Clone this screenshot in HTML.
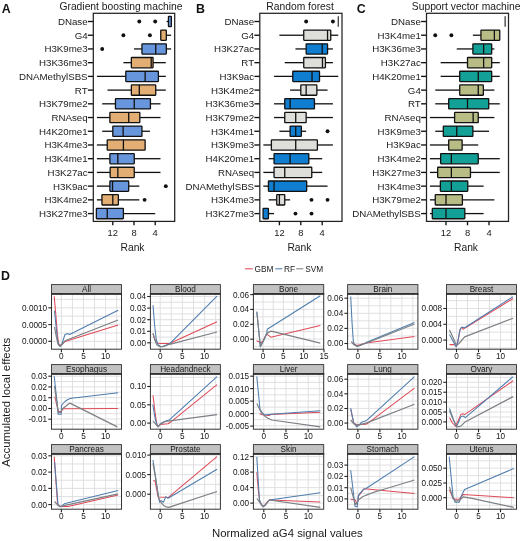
<!DOCTYPE html>
<html lang="en">
<head>
<meta charset="utf-8">
<title>Figure</title>
<style>
html,body{margin:0;padding:0;background:#fff;}
body{width:520px;height:541px;overflow:hidden;font-family:"Liberation Sans", Arial, Helvetica, sans-serif;}
svg{display:block;}
svg text{font-family:"Liberation Sans", Arial, Helvetica, sans-serif;}
</style>
</head>
<body>
<svg width="520" height="541" viewBox="0 0 520 541" font-family='"Liberation Sans", Arial, Helvetica, sans-serif'>
<rect width="520" height="541" fill="#fff"/>
<g>
<text x="1.8" y="13.0" font-size="12.4" font-weight="bold" fill="#111">A</text>
<text x="121" y="9.9" font-size="10.3" text-anchor="middle" fill="#1a1a1a">Gradient boosting machine</text>
<rect x="93.3" y="13.3" width="81.4" height="208.1" fill="#fff" stroke="none"/>
<text x="87.6" y="24.95" font-size="9.72" text-anchor="end" fill="#1a1a1a">DNase</text>
<line x1="87.9" y1="21.5" x2="93.3" y2="21.5" stroke="#111" stroke-width="1.35"/>
<line x1="166.59" y1="21.5" x2="168.45" y2="21.5" stroke="#111" stroke-width="1.3"/>
<rect x="168.45" y="16.35" width="2.91" height="10.3" rx="0.5" fill="#6896dc" stroke="#111" stroke-width="1.3"/>
<circle cx="139.3" cy="21.5" r="1.95" fill="#111"/>
<circle cx="155.2" cy="21.5" r="1.95" fill="#111"/>
<text x="87.6" y="38.67" font-size="9.72" text-anchor="end" fill="#1a1a1a">G4</text>
<line x1="87.9" y1="35.22" x2="93.3" y2="35.22" stroke="#111" stroke-width="1.35"/>
<line x1="166.33" y1="35.22" x2="171.1" y2="35.22" stroke="#111" stroke-width="1.3"/>
<rect x="160.76" y="30.07" width="5.56" height="10.3" rx="0.5" fill="#e2ae74" stroke="#111" stroke-width="1.3"/>
<circle cx="123.4" cy="35.22" r="1.95" fill="#111"/>
<circle cx="149.9" cy="35.22" r="1.95" fill="#111"/>
<text x="87.6" y="52.39" font-size="9.72" text-anchor="end" fill="#1a1a1a">H3K9me3</text>
<line x1="87.9" y1="48.94" x2="93.3" y2="48.94" stroke="#111" stroke-width="1.35"/>
<line x1="134" y1="48.94" x2="141.95" y2="48.94" stroke="#111" stroke-width="1.3"/>
<line x1="166.33" y1="48.94" x2="171.1" y2="48.94" stroke="#111" stroke-width="1.3"/>
<rect x="141.95" y="43.79" width="24.38" height="10.3" rx="0.5" fill="#6896dc" stroke="#111" stroke-width="1.3"/>
<line x1="155.73" y1="43.79" x2="155.73" y2="54.09" stroke="#111" stroke-width="1.3"/>
<circle cx="102.2" cy="48.94" r="1.95" fill="#111"/>
<text x="87.6" y="66.11" font-size="9.72" text-anchor="end" fill="#1a1a1a">H3K36me3</text>
<line x1="87.9" y1="62.66" x2="93.3" y2="62.66" stroke="#111" stroke-width="1.35"/>
<line x1="123.4" y1="62.66" x2="131.35" y2="62.66" stroke="#111" stroke-width="1.3"/>
<line x1="153.08" y1="62.66" x2="165.8" y2="62.66" stroke="#111" stroke-width="1.3"/>
<rect x="131.35" y="57.51" width="21.73" height="10.3" rx="0.5" fill="#e2ae74" stroke="#111" stroke-width="1.3"/>
<line x1="151.22" y1="57.51" x2="151.22" y2="67.81" stroke="#111" stroke-width="1.3"/>
<text x="87.6" y="79.83" font-size="9.72" text-anchor="end" fill="#1a1a1a">DNAMethylSBS</text>
<line x1="87.9" y1="76.38" x2="93.3" y2="76.38" stroke="#111" stroke-width="1.35"/>
<line x1="96.9" y1="76.38" x2="125.78" y2="76.38" stroke="#111" stroke-width="1.3"/>
<line x1="158.38" y1="76.38" x2="165.8" y2="76.38" stroke="#111" stroke-width="1.3"/>
<rect x="125.78" y="71.23" width="32.6" height="10.3" rx="0.5" fill="#6896dc" stroke="#111" stroke-width="1.3"/>
<line x1="145.13" y1="71.23" x2="145.13" y2="81.53" stroke="#111" stroke-width="1.3"/>
<text x="87.6" y="93.55" font-size="9.72" text-anchor="end" fill="#1a1a1a">RT</text>
<line x1="87.9" y1="90.1" x2="93.3" y2="90.1" stroke="#111" stroke-width="1.35"/>
<line x1="107.5" y1="90.1" x2="131.35" y2="90.1" stroke="#111" stroke-width="1.3"/>
<line x1="155.73" y1="90.1" x2="165.8" y2="90.1" stroke="#111" stroke-width="1.3"/>
<rect x="131.35" y="84.95" width="24.38" height="10.3" rx="0.5" fill="#e2ae74" stroke="#111" stroke-width="1.3"/>
<line x1="139.3" y1="84.95" x2="139.3" y2="95.25" stroke="#111" stroke-width="1.3"/>
<text x="87.6" y="107.27" font-size="9.72" text-anchor="end" fill="#1a1a1a">H3K79me2</text>
<line x1="87.9" y1="103.82" x2="93.3" y2="103.82" stroke="#111" stroke-width="1.35"/>
<line x1="102.2" y1="103.82" x2="115.45" y2="103.82" stroke="#111" stroke-width="1.3"/>
<line x1="150.43" y1="103.82" x2="160.5" y2="103.82" stroke="#111" stroke-width="1.3"/>
<rect x="115.45" y="98.67" width="34.98" height="10.3" rx="0.5" fill="#6896dc" stroke="#111" stroke-width="1.3"/>
<line x1="134.26" y1="98.67" x2="134.26" y2="108.97" stroke="#111" stroke-width="1.3"/>
<text x="87.6" y="120.99" font-size="9.72" text-anchor="end" fill="#1a1a1a">RNAseq</text>
<line x1="87.9" y1="117.54" x2="93.3" y2="117.54" stroke="#111" stroke-width="1.35"/>
<line x1="96.9" y1="117.54" x2="109.88" y2="117.54" stroke="#111" stroke-width="1.3"/>
<line x1="139.83" y1="117.54" x2="160.5" y2="117.54" stroke="#111" stroke-width="1.3"/>
<rect x="109.88" y="112.39" width="29.94" height="10.3" rx="0.5" fill="#e2ae74" stroke="#111" stroke-width="1.3"/>
<line x1="128.7" y1="112.39" x2="128.7" y2="122.69" stroke="#111" stroke-width="1.3"/>
<text x="87.6" y="134.71" font-size="9.72" text-anchor="end" fill="#1a1a1a">H4K20me1</text>
<line x1="87.9" y1="131.26" x2="93.3" y2="131.26" stroke="#111" stroke-width="1.35"/>
<line x1="102.2" y1="131.26" x2="112.8" y2="131.26" stroke="#111" stroke-width="1.3"/>
<line x1="141.95" y1="131.26" x2="149.9" y2="131.26" stroke="#111" stroke-width="1.3"/>
<rect x="112.8" y="126.11" width="29.15" height="10.3" rx="0.5" fill="#6896dc" stroke="#111" stroke-width="1.3"/>
<line x1="123.13" y1="126.11" x2="123.13" y2="136.41" stroke="#111" stroke-width="1.3"/>
<text x="87.6" y="148.43" font-size="9.72" text-anchor="end" fill="#1a1a1a">H3K4me3</text>
<line x1="87.9" y1="144.98" x2="93.3" y2="144.98" stroke="#111" stroke-width="1.35"/>
<line x1="96.9" y1="144.98" x2="107.23" y2="144.98" stroke="#111" stroke-width="1.3"/>
<rect x="107.23" y="139.83" width="37.9" height="10.3" rx="0.5" fill="#e2ae74" stroke="#111" stroke-width="1.3"/>
<line x1="123.4" y1="139.83" x2="123.4" y2="150.13" stroke="#111" stroke-width="1.3"/>
<text x="87.6" y="162.15" font-size="9.72" text-anchor="end" fill="#1a1a1a">H3K4me1</text>
<line x1="87.9" y1="158.7" x2="93.3" y2="158.7" stroke="#111" stroke-width="1.35"/>
<line x1="96.9" y1="158.7" x2="109.88" y2="158.7" stroke="#111" stroke-width="1.3"/>
<line x1="134.26" y1="158.7" x2="160.5" y2="158.7" stroke="#111" stroke-width="1.3"/>
<rect x="109.88" y="153.55" width="24.38" height="10.3" rx="0.5" fill="#6896dc" stroke="#111" stroke-width="1.3"/>
<line x1="117.83" y1="153.55" x2="117.83" y2="163.85" stroke="#111" stroke-width="1.3"/>
<text x="87.6" y="175.87" font-size="9.72" text-anchor="end" fill="#1a1a1a">H3K27ac</text>
<line x1="87.9" y1="172.42" x2="93.3" y2="172.42" stroke="#111" stroke-width="1.35"/>
<line x1="96.9" y1="172.42" x2="110.15" y2="172.42" stroke="#111" stroke-width="1.3"/>
<line x1="134.26" y1="172.42" x2="160.5" y2="172.42" stroke="#111" stroke-width="1.3"/>
<rect x="110.15" y="167.27" width="24.11" height="10.3" rx="0.5" fill="#e2ae74" stroke="#111" stroke-width="1.3"/>
<line x1="117.83" y1="167.27" x2="117.83" y2="177.57" stroke="#111" stroke-width="1.3"/>
<text x="87.6" y="189.59" font-size="9.72" text-anchor="end" fill="#1a1a1a">H3K9ac</text>
<line x1="87.9" y1="186.14" x2="93.3" y2="186.14" stroke="#111" stroke-width="1.35"/>
<line x1="96.9" y1="186.14" x2="109.88" y2="186.14" stroke="#111" stroke-width="1.3"/>
<line x1="128.7" y1="186.14" x2="139.3" y2="186.14" stroke="#111" stroke-width="1.3"/>
<rect x="109.88" y="180.99" width="18.81" height="10.3" rx="0.5" fill="#6896dc" stroke="#111" stroke-width="1.3"/>
<line x1="112.53" y1="180.99" x2="112.53" y2="191.29" stroke="#111" stroke-width="1.3"/>
<circle cx="165.8" cy="186.14" r="1.95" fill="#111"/>
<text x="87.6" y="203.31" font-size="9.72" text-anchor="end" fill="#1a1a1a">H3K4me2</text>
<line x1="87.9" y1="199.86" x2="93.3" y2="199.86" stroke="#111" stroke-width="1.35"/>
<line x1="96.9" y1="199.86" x2="101.93" y2="199.86" stroke="#111" stroke-width="1.3"/>
<line x1="118.36" y1="199.86" x2="139.3" y2="199.86" stroke="#111" stroke-width="1.3"/>
<rect x="101.93" y="194.71" width="16.43" height="10.3" rx="0.5" fill="#e2ae74" stroke="#111" stroke-width="1.3"/>
<line x1="112.8" y1="194.71" x2="112.8" y2="205.01" stroke="#111" stroke-width="1.3"/>
<circle cx="144.6" cy="199.86" r="1.95" fill="#111"/>
<text x="87.6" y="217.03" font-size="9.72" text-anchor="end" fill="#1a1a1a">H3K27me3</text>
<line x1="87.9" y1="213.58" x2="93.3" y2="213.58" stroke="#111" stroke-width="1.35"/>
<line x1="123.4" y1="213.58" x2="155.2" y2="213.58" stroke="#111" stroke-width="1.3"/>
<rect x="96.37" y="208.43" width="27.03" height="10.3" rx="0.5" fill="#6896dc" stroke="#111" stroke-width="1.3"/>
<line x1="107.23" y1="208.43" x2="107.23" y2="218.73" stroke="#111" stroke-width="1.3"/>
<rect x="93.3" y="13.3" width="81.4" height="208.1" fill="none" stroke="#222" stroke-width="1.25"/>
<line x1="112.8" y1="221.4" x2="112.8" y2="225.3" stroke="#111" stroke-width="1.35"/>
<text x="112.8" y="235.7" font-size="9.4" text-anchor="middle" fill="#1a1a1a">12</text>
<line x1="134" y1="221.4" x2="134" y2="225.3" stroke="#111" stroke-width="1.35"/>
<text x="134" y="235.7" font-size="9.4" text-anchor="middle" fill="#1a1a1a">8</text>
<line x1="155.2" y1="221.4" x2="155.2" y2="225.3" stroke="#111" stroke-width="1.35"/>
<text x="155.2" y="235.7" font-size="9.4" text-anchor="middle" fill="#1a1a1a">4</text>
<text x="132.5" y="250.8" font-size="10.3" text-anchor="middle" fill="#1a1a1a">Rank</text>
</g>
<g>
<text x="195.9" y="13.0" font-size="12.4" font-weight="bold" fill="#111">B</text>
<text x="300.1" y="9.9" font-size="10.3" text-anchor="middle" fill="#1a1a1a">Random forest</text>
<rect x="259.8" y="13.3" width="82.2" height="208.1" fill="#fff" stroke="none"/>
<text x="254.1" y="24.95" font-size="9.72" text-anchor="end" fill="#1a1a1a">DNase</text>
<line x1="254.4" y1="21.5" x2="259.8" y2="21.5" stroke="#111" stroke-width="1.35"/>
<line x1="338.25" y1="16.35" x2="338.25" y2="26.65" stroke="#1a1a1a" stroke-width="1.1"/>
<circle cx="306.15" cy="21.5" r="1.95" fill="#111"/>
<circle cx="332.9" cy="21.5" r="1.95" fill="#111"/>
<text x="254.1" y="38.67" font-size="9.72" text-anchor="end" fill="#1a1a1a">G4</text>
<line x1="254.4" y1="35.22" x2="259.8" y2="35.22" stroke="#111" stroke-width="1.35"/>
<line x1="279.4" y1="35.22" x2="303.74" y2="35.22" stroke="#111" stroke-width="1.3"/>
<line x1="330.76" y1="35.22" x2="338.25" y2="35.22" stroke="#111" stroke-width="1.3"/>
<rect x="303.74" y="30.07" width="27.02" height="10.3" rx="0.5" fill="#dededa" stroke="#111" stroke-width="1.3"/>
<line x1="327.55" y1="30.07" x2="327.55" y2="40.37" stroke="#111" stroke-width="1.3"/>
<text x="254.1" y="52.39" font-size="9.72" text-anchor="end" fill="#1a1a1a">H3K27ac</text>
<line x1="254.4" y1="48.94" x2="259.8" y2="48.94" stroke="#111" stroke-width="1.35"/>
<line x1="295.45" y1="48.94" x2="306.15" y2="48.94" stroke="#111" stroke-width="1.3"/>
<line x1="327.55" y1="48.94" x2="332.9" y2="48.94" stroke="#111" stroke-width="1.3"/>
<rect x="306.15" y="43.79" width="21.4" height="10.3" rx="0.5" fill="#0f7ed1" stroke="#111" stroke-width="1.3"/>
<line x1="322.2" y1="43.79" x2="322.2" y2="54.09" stroke="#111" stroke-width="1.3"/>
<text x="254.1" y="66.11" font-size="9.72" text-anchor="end" fill="#1a1a1a">RT</text>
<line x1="254.4" y1="62.66" x2="259.8" y2="62.66" stroke="#111" stroke-width="1.35"/>
<line x1="284.75" y1="62.66" x2="303.74" y2="62.66" stroke="#111" stroke-width="1.3"/>
<line x1="325.41" y1="62.66" x2="332.9" y2="62.66" stroke="#111" stroke-width="1.3"/>
<rect x="303.74" y="57.51" width="21.67" height="10.3" rx="0.5" fill="#dededa" stroke="#111" stroke-width="1.3"/>
<line x1="322.47" y1="57.51" x2="322.47" y2="67.81" stroke="#111" stroke-width="1.3"/>
<text x="254.1" y="79.83" font-size="9.72" text-anchor="end" fill="#1a1a1a">H3K9ac</text>
<line x1="254.4" y1="76.38" x2="259.8" y2="76.38" stroke="#111" stroke-width="1.35"/>
<line x1="274.05" y1="76.38" x2="292.77" y2="76.38" stroke="#111" stroke-width="1.3"/>
<line x1="319.52" y1="76.38" x2="338.25" y2="76.38" stroke="#111" stroke-width="1.3"/>
<rect x="292.77" y="71.23" width="26.75" height="10.3" rx="0.5" fill="#0f7ed1" stroke="#111" stroke-width="1.3"/>
<line x1="312.03" y1="71.23" x2="312.03" y2="81.53" stroke="#111" stroke-width="1.3"/>
<text x="254.1" y="93.55" font-size="9.72" text-anchor="end" fill="#1a1a1a">H3K4me2</text>
<line x1="254.4" y1="90.1" x2="259.8" y2="90.1" stroke="#111" stroke-width="1.35"/>
<line x1="290.1" y1="90.1" x2="300.8" y2="90.1" stroke="#111" stroke-width="1.3"/>
<line x1="316.85" y1="90.1" x2="327.55" y2="90.1" stroke="#111" stroke-width="1.3"/>
<rect x="300.8" y="84.95" width="16.05" height="10.3" rx="0.5" fill="#dededa" stroke="#111" stroke-width="1.3"/>
<line x1="306.15" y1="84.95" x2="306.15" y2="95.25" stroke="#111" stroke-width="1.3"/>
<text x="254.1" y="107.27" font-size="9.72" text-anchor="end" fill="#1a1a1a">H3K36me3</text>
<line x1="254.4" y1="103.82" x2="259.8" y2="103.82" stroke="#111" stroke-width="1.35"/>
<line x1="274.05" y1="103.82" x2="284.75" y2="103.82" stroke="#111" stroke-width="1.3"/>
<line x1="314.44" y1="103.82" x2="332.9" y2="103.82" stroke="#111" stroke-width="1.3"/>
<rect x="284.75" y="98.67" width="29.69" height="10.3" rx="0.5" fill="#0f7ed1" stroke="#111" stroke-width="1.3"/>
<line x1="290.1" y1="98.67" x2="290.1" y2="108.97" stroke="#111" stroke-width="1.3"/>
<text x="254.1" y="120.99" font-size="9.72" text-anchor="end" fill="#1a1a1a">H3K79me2</text>
<line x1="254.4" y1="117.54" x2="259.8" y2="117.54" stroke="#111" stroke-width="1.35"/>
<line x1="274.05" y1="117.54" x2="284.75" y2="117.54" stroke="#111" stroke-width="1.3"/>
<line x1="306.15" y1="117.54" x2="332.9" y2="117.54" stroke="#111" stroke-width="1.3"/>
<rect x="284.75" y="112.39" width="21.4" height="10.3" rx="0.5" fill="#dededa" stroke="#111" stroke-width="1.3"/>
<line x1="295.72" y1="112.39" x2="295.72" y2="122.69" stroke="#111" stroke-width="1.3"/>
<text x="254.1" y="134.71" font-size="9.72" text-anchor="end" fill="#1a1a1a">H3K4me1</text>
<line x1="254.4" y1="131.26" x2="259.8" y2="131.26" stroke="#111" stroke-width="1.35"/>
<line x1="279.4" y1="131.26" x2="290.1" y2="131.26" stroke="#111" stroke-width="1.3"/>
<line x1="301.33" y1="131.26" x2="306.15" y2="131.26" stroke="#111" stroke-width="1.3"/>
<rect x="290.1" y="126.11" width="11.23" height="10.3" rx="0.5" fill="#0f7ed1" stroke="#111" stroke-width="1.3"/>
<line x1="295.72" y1="126.11" x2="295.72" y2="136.41" stroke="#111" stroke-width="1.3"/>
<circle cx="327.55" cy="131.26" r="1.95" fill="#111"/>
<text x="254.1" y="148.43" font-size="9.72" text-anchor="end" fill="#1a1a1a">H3K9me3</text>
<line x1="254.4" y1="144.98" x2="259.8" y2="144.98" stroke="#111" stroke-width="1.35"/>
<line x1="263.35" y1="144.98" x2="271.38" y2="144.98" stroke="#111" stroke-width="1.3"/>
<line x1="317.38" y1="144.98" x2="332.9" y2="144.98" stroke="#111" stroke-width="1.3"/>
<rect x="271.38" y="139.83" width="46.01" height="10.3" rx="0.5" fill="#dededa" stroke="#111" stroke-width="1.3"/>
<line x1="295.72" y1="139.83" x2="295.72" y2="150.13" stroke="#111" stroke-width="1.3"/>
<text x="254.1" y="162.15" font-size="9.72" text-anchor="end" fill="#1a1a1a">H4K20me1</text>
<line x1="254.4" y1="158.7" x2="259.8" y2="158.7" stroke="#111" stroke-width="1.35"/>
<line x1="268.7" y1="158.7" x2="274.05" y2="158.7" stroke="#111" stroke-width="1.3"/>
<line x1="308.82" y1="158.7" x2="322.2" y2="158.7" stroke="#111" stroke-width="1.3"/>
<rect x="274.05" y="153.55" width="34.77" height="10.3" rx="0.5" fill="#0f7ed1" stroke="#111" stroke-width="1.3"/>
<line x1="290.1" y1="153.55" x2="290.1" y2="163.85" stroke="#111" stroke-width="1.3"/>
<text x="254.1" y="175.87" font-size="9.72" text-anchor="end" fill="#1a1a1a">RNAseq</text>
<line x1="254.4" y1="172.42" x2="259.8" y2="172.42" stroke="#111" stroke-width="1.35"/>
<line x1="263.35" y1="172.42" x2="274.05" y2="172.42" stroke="#111" stroke-width="1.3"/>
<line x1="311.77" y1="172.42" x2="322.2" y2="172.42" stroke="#111" stroke-width="1.3"/>
<rect x="274.05" y="167.27" width="37.72" height="10.3" rx="0.5" fill="#dededa" stroke="#111" stroke-width="1.3"/>
<line x1="284.75" y1="167.27" x2="284.75" y2="177.57" stroke="#111" stroke-width="1.3"/>
<text x="254.1" y="189.59" font-size="9.72" text-anchor="end" fill="#1a1a1a">DNAMethylSBS</text>
<line x1="254.4" y1="186.14" x2="259.8" y2="186.14" stroke="#111" stroke-width="1.35"/>
<line x1="263.35" y1="186.14" x2="268.43" y2="186.14" stroke="#111" stroke-width="1.3"/>
<line x1="306.69" y1="186.14" x2="327.55" y2="186.14" stroke="#111" stroke-width="1.3"/>
<rect x="268.43" y="180.99" width="38.25" height="10.3" rx="0.5" fill="#0f7ed1" stroke="#111" stroke-width="1.3"/>
<line x1="274.05" y1="180.99" x2="274.05" y2="191.29" stroke="#111" stroke-width="1.3"/>
<text x="254.1" y="203.31" font-size="9.72" text-anchor="end" fill="#1a1a1a">H3K4me3</text>
<line x1="254.4" y1="199.86" x2="259.8" y2="199.86" stroke="#111" stroke-width="1.35"/>
<line x1="268.7" y1="199.86" x2="276.73" y2="199.86" stroke="#111" stroke-width="1.3"/>
<line x1="284.75" y1="199.86" x2="290.1" y2="199.86" stroke="#111" stroke-width="1.3"/>
<rect x="276.73" y="194.71" width="8.02" height="10.3" rx="0.5" fill="#dededa" stroke="#111" stroke-width="1.3"/>
<line x1="279.4" y1="194.71" x2="279.4" y2="205.01" stroke="#111" stroke-width="1.3"/>
<circle cx="311.5" cy="199.86" r="1.95" fill="#111"/>
<circle cx="327.55" cy="199.86" r="1.95" fill="#111"/>
<text x="254.1" y="217.03" font-size="9.72" text-anchor="end" fill="#1a1a1a">H3K27me3</text>
<line x1="254.4" y1="213.58" x2="259.8" y2="213.58" stroke="#111" stroke-width="1.35"/>
<line x1="268.43" y1="213.58" x2="274.05" y2="213.58" stroke="#111" stroke-width="1.3"/>
<rect x="263.08" y="208.43" width="5.35" height="10.3" rx="0.5" fill="#0f7ed1" stroke="#111" stroke-width="1.3"/>
<circle cx="295.45" cy="213.58" r="1.95" fill="#111"/>
<circle cx="311.5" cy="213.58" r="1.95" fill="#111"/>
<rect x="259.8" y="13.3" width="82.2" height="208.1" fill="none" stroke="#222" stroke-width="1.25"/>
<line x1="279.4" y1="221.4" x2="279.4" y2="225.3" stroke="#111" stroke-width="1.35"/>
<text x="279.4" y="235.7" font-size="9.4" text-anchor="middle" fill="#1a1a1a">12</text>
<line x1="300.8" y1="221.4" x2="300.8" y2="225.3" stroke="#111" stroke-width="1.35"/>
<text x="300.8" y="235.7" font-size="9.4" text-anchor="middle" fill="#1a1a1a">8</text>
<line x1="322.2" y1="221.4" x2="322.2" y2="225.3" stroke="#111" stroke-width="1.35"/>
<text x="322.2" y="235.7" font-size="9.4" text-anchor="middle" fill="#1a1a1a">4</text>
<text x="299.4" y="250.8" font-size="10.3" text-anchor="middle" fill="#1a1a1a">Rank</text>
</g>
<g>
<text x="356.8" y="13.0" font-size="12.4" font-weight="bold" fill="#111">C</text>
<text x="466.2" y="9.9" font-size="10.3" text-anchor="middle" fill="#1a1a1a">Support vector machine</text>
<rect x="426.5" y="13.3" width="82" height="208.1" fill="#fff" stroke="none"/>
<text x="420.8" y="24.95" font-size="9.72" text-anchor="end" fill="#1a1a1a">DNase</text>
<line x1="421.1" y1="21.5" x2="426.5" y2="21.5" stroke="#111" stroke-width="1.35"/>
<line x1="505.12" y1="16.35" x2="505.12" y2="26.65" stroke="#1a1a1a" stroke-width="1.1"/>
<text x="420.8" y="38.67" font-size="9.72" text-anchor="end" fill="#1a1a1a">H3K4me1</text>
<line x1="421.1" y1="35.22" x2="426.5" y2="35.22" stroke="#111" stroke-width="1.35"/>
<line x1="472.88" y1="35.22" x2="480.94" y2="35.22" stroke="#111" stroke-width="1.3"/>
<rect x="480.94" y="30.07" width="18.81" height="10.3" rx="0.5" fill="#b8bd86" stroke="#111" stroke-width="1.3"/>
<line x1="494.38" y1="30.07" x2="494.38" y2="40.37" stroke="#111" stroke-width="1.3"/>
<circle cx="435.25" cy="35.22" r="1.95" fill="#111"/>
<circle cx="451.38" cy="35.22" r="1.95" fill="#111"/>
<text x="420.8" y="52.39" font-size="9.72" text-anchor="end" fill="#1a1a1a">H3K36me3</text>
<line x1="421.1" y1="48.94" x2="426.5" y2="48.94" stroke="#111" stroke-width="1.35"/>
<line x1="456.75" y1="48.94" x2="472.88" y2="48.94" stroke="#111" stroke-width="1.3"/>
<line x1="491.69" y1="48.94" x2="494.38" y2="48.94" stroke="#111" stroke-width="1.3"/>
<rect x="472.88" y="43.79" width="18.81" height="10.3" rx="0.5" fill="#12a097" stroke="#111" stroke-width="1.3"/>
<line x1="483.62" y1="43.79" x2="483.62" y2="54.09" stroke="#111" stroke-width="1.3"/>
<text x="420.8" y="66.11" font-size="9.72" text-anchor="end" fill="#1a1a1a">H3K27ac</text>
<line x1="421.1" y1="62.66" x2="426.5" y2="62.66" stroke="#111" stroke-width="1.35"/>
<line x1="440.62" y1="62.66" x2="467.5" y2="62.66" stroke="#111" stroke-width="1.3"/>
<line x1="491.69" y1="62.66" x2="499.75" y2="62.66" stroke="#111" stroke-width="1.3"/>
<rect x="467.5" y="57.51" width="24.19" height="10.3" rx="0.5" fill="#b8bd86" stroke="#111" stroke-width="1.3"/>
<line x1="483.62" y1="57.51" x2="483.62" y2="67.81" stroke="#111" stroke-width="1.3"/>
<text x="420.8" y="79.83" font-size="9.72" text-anchor="end" fill="#1a1a1a">H4K20me1</text>
<line x1="421.1" y1="76.38" x2="426.5" y2="76.38" stroke="#111" stroke-width="1.35"/>
<line x1="440.62" y1="76.38" x2="459.71" y2="76.38" stroke="#111" stroke-width="1.3"/>
<line x1="491.69" y1="76.38" x2="499.75" y2="76.38" stroke="#111" stroke-width="1.3"/>
<rect x="459.71" y="71.23" width="31.98" height="10.3" rx="0.5" fill="#12a097" stroke="#111" stroke-width="1.3"/>
<line x1="478.25" y1="71.23" x2="478.25" y2="81.53" stroke="#111" stroke-width="1.3"/>
<text x="420.8" y="93.55" font-size="9.72" text-anchor="end" fill="#1a1a1a">G4</text>
<line x1="421.1" y1="90.1" x2="426.5" y2="90.1" stroke="#111" stroke-width="1.35"/>
<line x1="435.25" y1="90.1" x2="459.71" y2="90.1" stroke="#111" stroke-width="1.3"/>
<line x1="483.36" y1="90.1" x2="494.38" y2="90.1" stroke="#111" stroke-width="1.3"/>
<rect x="459.71" y="84.95" width="23.65" height="10.3" rx="0.5" fill="#b8bd86" stroke="#111" stroke-width="1.3"/>
<line x1="478.25" y1="84.95" x2="478.25" y2="95.25" stroke="#111" stroke-width="1.3"/>
<text x="420.8" y="107.27" font-size="9.72" text-anchor="end" fill="#1a1a1a">RT</text>
<line x1="421.1" y1="103.82" x2="426.5" y2="103.82" stroke="#111" stroke-width="1.35"/>
<line x1="435.25" y1="103.82" x2="448.69" y2="103.82" stroke="#111" stroke-width="1.3"/>
<line x1="488.73" y1="103.82" x2="499.75" y2="103.82" stroke="#111" stroke-width="1.3"/>
<rect x="448.69" y="98.67" width="40.04" height="10.3" rx="0.5" fill="#12a097" stroke="#111" stroke-width="1.3"/>
<line x1="467.5" y1="98.67" x2="467.5" y2="108.97" stroke="#111" stroke-width="1.3"/>
<text x="420.8" y="120.99" font-size="9.72" text-anchor="end" fill="#1a1a1a">RNAseq</text>
<line x1="421.1" y1="117.54" x2="426.5" y2="117.54" stroke="#111" stroke-width="1.35"/>
<line x1="429.88" y1="117.54" x2="454.6" y2="117.54" stroke="#111" stroke-width="1.3"/>
<line x1="478.25" y1="117.54" x2="494.38" y2="117.54" stroke="#111" stroke-width="1.3"/>
<rect x="454.6" y="112.39" width="23.65" height="10.3" rx="0.5" fill="#b8bd86" stroke="#111" stroke-width="1.3"/>
<line x1="473.14" y1="112.39" x2="473.14" y2="122.69" stroke="#111" stroke-width="1.3"/>
<text x="420.8" y="134.71" font-size="9.72" text-anchor="end" fill="#1a1a1a">H3K9me3</text>
<line x1="421.1" y1="131.26" x2="426.5" y2="131.26" stroke="#111" stroke-width="1.35"/>
<line x1="435.25" y1="131.26" x2="443.31" y2="131.26" stroke="#111" stroke-width="1.3"/>
<line x1="472.88" y1="131.26" x2="489" y2="131.26" stroke="#111" stroke-width="1.3"/>
<rect x="443.31" y="126.11" width="29.56" height="10.3" rx="0.5" fill="#12a097" stroke="#111" stroke-width="1.3"/>
<line x1="456.75" y1="126.11" x2="456.75" y2="136.41" stroke="#111" stroke-width="1.3"/>
<text x="420.8" y="148.43" font-size="9.72" text-anchor="end" fill="#1a1a1a">H3K9ac</text>
<line x1="421.1" y1="144.98" x2="426.5" y2="144.98" stroke="#111" stroke-width="1.35"/>
<line x1="429.88" y1="144.98" x2="448.69" y2="144.98" stroke="#111" stroke-width="1.3"/>
<line x1="462.12" y1="144.98" x2="478.25" y2="144.98" stroke="#111" stroke-width="1.3"/>
<rect x="448.69" y="139.83" width="13.44" height="10.3" rx="0.5" fill="#b8bd86" stroke="#111" stroke-width="1.3"/>
<text x="420.8" y="162.15" font-size="9.72" text-anchor="end" fill="#1a1a1a">H3K4me2</text>
<line x1="421.1" y1="158.7" x2="426.5" y2="158.7" stroke="#111" stroke-width="1.35"/>
<line x1="429.88" y1="158.7" x2="440.62" y2="158.7" stroke="#111" stroke-width="1.3"/>
<line x1="478.25" y1="158.7" x2="499.75" y2="158.7" stroke="#111" stroke-width="1.3"/>
<rect x="440.62" y="153.55" width="37.62" height="10.3" rx="0.5" fill="#12a097" stroke="#111" stroke-width="1.3"/>
<line x1="451.38" y1="153.55" x2="451.38" y2="163.85" stroke="#111" stroke-width="1.3"/>
<text x="420.8" y="175.87" font-size="9.72" text-anchor="end" fill="#1a1a1a">H3K27me3</text>
<line x1="421.1" y1="172.42" x2="426.5" y2="172.42" stroke="#111" stroke-width="1.35"/>
<line x1="429.88" y1="172.42" x2="437.67" y2="172.42" stroke="#111" stroke-width="1.3"/>
<line x1="470.46" y1="172.42" x2="499.75" y2="172.42" stroke="#111" stroke-width="1.3"/>
<rect x="437.67" y="167.27" width="32.79" height="10.3" rx="0.5" fill="#b8bd86" stroke="#111" stroke-width="1.3"/>
<line x1="451.38" y1="167.27" x2="451.38" y2="177.57" stroke="#111" stroke-width="1.3"/>
<text x="420.8" y="189.59" font-size="9.72" text-anchor="end" fill="#1a1a1a">H3K4me3</text>
<line x1="421.1" y1="186.14" x2="426.5" y2="186.14" stroke="#111" stroke-width="1.35"/>
<line x1="429.88" y1="186.14" x2="440.36" y2="186.14" stroke="#111" stroke-width="1.3"/>
<line x1="467.77" y1="186.14" x2="483.62" y2="186.14" stroke="#111" stroke-width="1.3"/>
<rect x="440.36" y="180.99" width="27.41" height="10.3" rx="0.5" fill="#12a097" stroke="#111" stroke-width="1.3"/>
<line x1="451.38" y1="180.99" x2="451.38" y2="191.29" stroke="#111" stroke-width="1.3"/>
<text x="420.8" y="203.31" font-size="9.72" text-anchor="end" fill="#1a1a1a">H3K79me2</text>
<line x1="421.1" y1="199.86" x2="426.5" y2="199.86" stroke="#111" stroke-width="1.35"/>
<line x1="429.88" y1="199.86" x2="435.25" y2="199.86" stroke="#111" stroke-width="1.3"/>
<line x1="462.39" y1="199.86" x2="494.38" y2="199.86" stroke="#111" stroke-width="1.3"/>
<rect x="435.25" y="194.71" width="27.14" height="10.3" rx="0.5" fill="#b8bd86" stroke="#111" stroke-width="1.3"/>
<line x1="446" y1="194.71" x2="446" y2="205.01" stroke="#111" stroke-width="1.3"/>
<text x="420.8" y="217.03" font-size="9.72" text-anchor="end" fill="#1a1a1a">DNAMethylSBS</text>
<line x1="421.1" y1="213.58" x2="426.5" y2="213.58" stroke="#111" stroke-width="1.35"/>
<line x1="429.88" y1="213.58" x2="432.29" y2="213.58" stroke="#111" stroke-width="1.3"/>
<line x1="464.81" y1="213.58" x2="483.62" y2="213.58" stroke="#111" stroke-width="1.3"/>
<rect x="432.29" y="208.43" width="32.52" height="10.3" rx="0.5" fill="#12a097" stroke="#111" stroke-width="1.3"/>
<line x1="446" y1="208.43" x2="446" y2="218.73" stroke="#111" stroke-width="1.3"/>
<rect x="426.5" y="13.3" width="82" height="208.1" fill="none" stroke="#222" stroke-width="1.25"/>
<line x1="446" y1="221.4" x2="446" y2="225.3" stroke="#111" stroke-width="1.35"/>
<text x="446" y="235.7" font-size="9.4" text-anchor="middle" fill="#1a1a1a">12</text>
<line x1="467.5" y1="221.4" x2="467.5" y2="225.3" stroke="#111" stroke-width="1.35"/>
<text x="467.5" y="235.7" font-size="9.4" text-anchor="middle" fill="#1a1a1a">8</text>
<line x1="489" y1="221.4" x2="489" y2="225.3" stroke="#111" stroke-width="1.35"/>
<text x="489" y="235.7" font-size="9.4" text-anchor="middle" fill="#1a1a1a">4</text>
<text x="466" y="250.8" font-size="10.3" text-anchor="middle" fill="#1a1a1a">Rank</text>
</g>
<text x="1.0" y="279.9" font-size="12.4" font-weight="bold" fill="#111">D</text>
<line x1="245.0" y1="268.8" x2="252.8" y2="268.8" stroke="#de4b58" stroke-width="1.05"/>
<line x1="275.3" y1="268.8" x2="282.2" y2="268.8" stroke="#4e7dae" stroke-width="1.05"/>
<line x1="296.2" y1="268.8" x2="303.4" y2="268.8" stroke="#7c8084" stroke-width="1.05"/>
<text x="254.6" y="271.7" font-size="8.3" fill="#1a1a1a">GBM</text>
<text x="283.9" y="271.7" font-size="8.3" fill="#1a1a1a">RF</text>
<text x="305.2" y="271.7" font-size="8.3" fill="#1a1a1a">SVM</text>
<g>
<rect x="51.5" y="284.6" width="70" height="9.3" fill="#c2c2c2" stroke="#333" stroke-width="0.9"/>
<text x="86.5" y="292.15" font-size="8.2" text-anchor="middle" fill="#1a1a1a">All</text>
<rect x="51.5" y="293.9" width="70" height="55.3" fill="#fff"/>
<path d="M61.4 293.9V349.2M72.45 293.9V349.2M83.5 293.9V349.2M94.55 293.9V349.2M105.6 293.9V349.2M116.65 293.9V349.2M51.5 299.4H121.5M51.5 307.8H121.5M51.5 316.2H121.5M51.5 324.6H121.5M51.5 333H121.5M51.5 341.4H121.5" stroke="#dddde0" stroke-width="0.9" fill="none"/>
<path d="M54.2 296.2L55.6 312L57.4 334L58.6 343L59.8 345.4L61.5 344.6L65 341.6L118.1 325.1" stroke="#de4b58" stroke-width="1.05" fill="none" stroke-linejoin="round" stroke-linecap="butt"/>
<path d="M54.5 310.8L55.8 324L57.4 339L58.8 345.2L60.2 346.5L61.6 345L63.2 340L64.8 335L66.2 333.9L68.1 333.7L69.6 334.5L118.1 310.3" stroke="#4e7dae" stroke-width="1.05" fill="none" stroke-linejoin="round" stroke-linecap="butt"/>
<path d="M54.5 327L56.2 336L58 344L60.1 346.2L62 344.5L65 340.8L118.1 320" stroke="#7c8084" stroke-width="1.2" fill="none" stroke-linejoin="round" stroke-linecap="butt"/>
<rect x="51.5" y="293.9" width="70" height="55.3" fill="none" stroke="#333" stroke-width="1"/>
<line x1="51.05" y1="293.9" x2="121.95" y2="293.9" stroke="#2a2a2a" stroke-width="1.5"/>
<line x1="61.4" y1="349.2" x2="61.4" y2="352.2" stroke="#222" stroke-width="1.1"/>
<text x="61.4" y="359.4" font-size="8.2" text-anchor="middle" fill="#151515">0</text>
<line x1="83.5" y1="349.2" x2="83.5" y2="352.2" stroke="#222" stroke-width="1.1"/>
<text x="83.5" y="359.4" font-size="8.2" text-anchor="middle" fill="#151515">5</text>
<line x1="105.6" y1="349.2" x2="105.6" y2="352.2" stroke="#222" stroke-width="1.1"/>
<text x="105.6" y="359.4" font-size="8.2" text-anchor="middle" fill="#151515">10</text>
<line x1="48.3" y1="307.8" x2="51.5" y2="307.8" stroke="#222" stroke-width="1.1"/>
<text x="47.1" y="310.75" font-size="8.2" text-anchor="end" fill="#151515">0.0010</text>
<line x1="48.3" y1="324.6" x2="51.5" y2="324.6" stroke="#222" stroke-width="1.1"/>
<text x="47.1" y="327.55" font-size="8.2" text-anchor="end" fill="#151515">0.0005</text>
<line x1="48.3" y1="341.3" x2="51.5" y2="341.3" stroke="#222" stroke-width="1.1"/>
<text x="47.1" y="344.25" font-size="8.2" text-anchor="end" fill="#151515">0.0000</text>
</g>
<g>
<rect x="150.4" y="284.6" width="70" height="9.3" fill="#c2c2c2" stroke="#333" stroke-width="0.9"/>
<text x="185.4" y="292.15" font-size="8.2" text-anchor="middle" fill="#1a1a1a">Blood</text>
<rect x="150.4" y="293.9" width="70" height="55.3" fill="#fff"/>
<path d="M160.2 293.9V349.2M171.3 293.9V349.2M182.4 293.9V349.2M193.5 293.9V349.2M204.6 293.9V349.2M215.7 293.9V349.2M150.4 296.5H220.4M150.4 302.3H220.4M150.4 308.1H220.4M150.4 313.9H220.4M150.4 319.7H220.4M150.4 325.5H220.4M150.4 331.3H220.4M150.4 337.1H220.4M150.4 342.9H220.4" stroke="#dddde0" stroke-width="0.9" fill="none"/>
<path d="M153 333.8L154.4 338L155.8 341.5L158 343.2L160.4 343.5L169.6 343.4L217 321.8" stroke="#de4b58" stroke-width="1.05" fill="none" stroke-linejoin="round" stroke-linecap="butt"/>
<path d="M153 305.1L154.6 325L156.3 340L158.1 344.6L160.4 346.5L163 346.2L169.6 343.8L217 296.2" stroke="#4e7dae" stroke-width="1.05" fill="none" stroke-linejoin="round" stroke-linecap="butt"/>
<path d="M153 333L154.8 340L157 345L160.4 347L164 346.4L169.6 344.3L217 332" stroke="#7c8084" stroke-width="1.2" fill="none" stroke-linejoin="round" stroke-linecap="butt"/>
<rect x="150.4" y="293.9" width="70" height="55.3" fill="none" stroke="#333" stroke-width="1"/>
<line x1="149.95" y1="293.9" x2="220.85" y2="293.9" stroke="#2a2a2a" stroke-width="1.5"/>
<line x1="160.2" y1="349.2" x2="160.2" y2="352.2" stroke="#222" stroke-width="1.1"/>
<text x="160.2" y="359.4" font-size="8.2" text-anchor="middle" fill="#151515">0</text>
<line x1="182.4" y1="349.2" x2="182.4" y2="352.2" stroke="#222" stroke-width="1.1"/>
<text x="182.4" y="359.4" font-size="8.2" text-anchor="middle" fill="#151515">5</text>
<line x1="204.6" y1="349.2" x2="204.6" y2="352.2" stroke="#222" stroke-width="1.1"/>
<text x="204.6" y="359.4" font-size="8.2" text-anchor="middle" fill="#151515">10</text>
<line x1="147.2" y1="296.5" x2="150.4" y2="296.5" stroke="#222" stroke-width="1.1"/>
<text x="146" y="299.45" font-size="8.2" text-anchor="end" fill="#151515">0.04</text>
<line x1="147.2" y1="308.1" x2="150.4" y2="308.1" stroke="#222" stroke-width="1.1"/>
<text x="146" y="311.05" font-size="8.2" text-anchor="end" fill="#151515">0.03</text>
<line x1="147.2" y1="319.7" x2="150.4" y2="319.7" stroke="#222" stroke-width="1.1"/>
<text x="146" y="322.65" font-size="8.2" text-anchor="end" fill="#151515">0.02</text>
<line x1="147.2" y1="331.3" x2="150.4" y2="331.3" stroke="#222" stroke-width="1.1"/>
<text x="146" y="334.25" font-size="8.2" text-anchor="end" fill="#151515">0.01</text>
<line x1="147.2" y1="342.8" x2="150.4" y2="342.8" stroke="#222" stroke-width="1.1"/>
<text x="146" y="345.75" font-size="8.2" text-anchor="end" fill="#151515">0.00</text>
</g>
<g>
<rect x="253.4" y="284.6" width="70.3" height="9.3" fill="#c2c2c2" stroke="#333" stroke-width="0.9"/>
<text x="288.55" y="292.15" font-size="8.2" text-anchor="middle" fill="#1a1a1a">Bone</text>
<rect x="253.4" y="293.9" width="70.3" height="55.3" fill="#fff"/>
<path d="M263.1 293.9V349.2M273.25 293.9V349.2M283.4 293.9V349.2M293.55 293.9V349.2M303.7 293.9V349.2M313.85 293.9V349.2M253.4 294.6H323.7M253.4 302H323.7M253.4 309.4H323.7M253.4 316.8H323.7M253.4 324.2H323.7M253.4 331.6H323.7M253.4 339H323.7M253.4 346.4H323.7" stroke="#dddde0" stroke-width="0.9" fill="none"/>
<path d="M256.5 340.8L258.5 341.5L260.5 343L263 341L266.5 333.8L270.8 337.2L320.3 325.4" stroke="#de4b58" stroke-width="1.05" fill="none" stroke-linejoin="round" stroke-linecap="butt"/>
<path d="M256.8 311.5L260.3 346.9L263.5 341L266.8 333L267.2 329.2L320.3 295.8" stroke="#4e7dae" stroke-width="1.05" fill="none" stroke-linejoin="round" stroke-linecap="butt"/>
<path d="M256.9 312.5L260.4 346.3L263.5 340.5L267.2 333.1L271.1 331.1L320.3 343.1" stroke="#7c8084" stroke-width="1.2" fill="none" stroke-linejoin="round" stroke-linecap="butt"/>
<rect x="253.4" y="293.9" width="70.3" height="55.3" fill="none" stroke="#333" stroke-width="1"/>
<line x1="252.95" y1="293.9" x2="324.15" y2="293.9" stroke="#2a2a2a" stroke-width="1.5"/>
<line x1="263.1" y1="349.2" x2="263.1" y2="352.2" stroke="#222" stroke-width="1.1"/>
<text x="263.1" y="359.4" font-size="8.2" text-anchor="middle" fill="#151515">0</text>
<line x1="283.4" y1="349.2" x2="283.4" y2="352.2" stroke="#222" stroke-width="1.1"/>
<text x="283.4" y="359.4" font-size="8.2" text-anchor="middle" fill="#151515">5</text>
<line x1="303.7" y1="349.2" x2="303.7" y2="352.2" stroke="#222" stroke-width="1.1"/>
<text x="303.7" y="359.4" font-size="8.2" text-anchor="middle" fill="#151515">10</text>
<line x1="324" y1="349.2" x2="324" y2="352.2" stroke="#222" stroke-width="1.1"/>
<text x="324" y="359.4" font-size="8.2" text-anchor="middle" fill="#151515">15</text>
<line x1="250.2" y1="294.6" x2="253.4" y2="294.6" stroke="#222" stroke-width="1.1"/>
<text x="249" y="297.55" font-size="8.2" text-anchor="end" fill="#151515">0.06</text>
<line x1="250.2" y1="309.4" x2="253.4" y2="309.4" stroke="#222" stroke-width="1.1"/>
<text x="249" y="312.35" font-size="8.2" text-anchor="end" fill="#151515">0.04</text>
<line x1="250.2" y1="324.3" x2="253.4" y2="324.3" stroke="#222" stroke-width="1.1"/>
<text x="249" y="327.25" font-size="8.2" text-anchor="end" fill="#151515">0.02</text>
<line x1="250.2" y1="339.2" x2="253.4" y2="339.2" stroke="#222" stroke-width="1.1"/>
<text x="249" y="342.15" font-size="8.2" text-anchor="end" fill="#151515">0.00</text>
</g>
<g>
<rect x="347.6" y="284.6" width="70.3" height="9.3" fill="#c2c2c2" stroke="#333" stroke-width="0.9"/>
<text x="382.75" y="292.15" font-size="8.2" text-anchor="middle" fill="#1a1a1a">Brain</text>
<rect x="347.6" y="293.9" width="70.3" height="55.3" fill="#fff"/>
<path d="M357.9 293.9V349.2M368.9 293.9V349.2M379.9 293.9V349.2M390.9 293.9V349.2M401.9 293.9V349.2M412.9 293.9V349.2M347.6 298.2H417.9M347.6 305.75H417.9M347.6 313.3H417.9M347.6 320.85H417.9M347.6 328.4H417.9M347.6 335.95H417.9M347.6 343.5H417.9" stroke="#dddde0" stroke-width="0.9" fill="none"/>
<path d="M351.5 341.8L353.5 344L357.2 345.6L366.1 342.9L414.5 336.5" stroke="#de4b58" stroke-width="1.05" fill="none" stroke-linejoin="round" stroke-linecap="butt"/>
<path d="M350.7 296.5L352 322L353.2 340L354.4 344.8L357.2 346.2L360 345.5L366.1 342.6L414.5 322.5" stroke="#4e7dae" stroke-width="1.05" fill="none" stroke-linejoin="round" stroke-linecap="butt"/>
<path d="M351.5 341.5L353.5 344.5L357.2 346.4L366.1 343.3L414.5 324" stroke="#7c8084" stroke-width="1.2" fill="none" stroke-linejoin="round" stroke-linecap="butt"/>
<rect x="347.6" y="293.9" width="70.3" height="55.3" fill="none" stroke="#333" stroke-width="1"/>
<line x1="347.15" y1="293.9" x2="418.35" y2="293.9" stroke="#2a2a2a" stroke-width="1.5"/>
<line x1="357.9" y1="349.2" x2="357.9" y2="352.2" stroke="#222" stroke-width="1.1"/>
<text x="357.9" y="359.4" font-size="8.2" text-anchor="middle" fill="#151515">0</text>
<line x1="379.9" y1="349.2" x2="379.9" y2="352.2" stroke="#222" stroke-width="1.1"/>
<text x="379.9" y="359.4" font-size="8.2" text-anchor="middle" fill="#151515">5</text>
<line x1="401.9" y1="349.2" x2="401.9" y2="352.2" stroke="#222" stroke-width="1.1"/>
<text x="401.9" y="359.4" font-size="8.2" text-anchor="middle" fill="#151515">10</text>
<line x1="344.4" y1="298.2" x2="347.6" y2="298.2" stroke="#222" stroke-width="1.1"/>
<text x="343.2" y="301.15" font-size="8.2" text-anchor="end" fill="#151515">0.06</text>
<line x1="344.4" y1="313.3" x2="347.6" y2="313.3" stroke="#222" stroke-width="1.1"/>
<text x="343.2" y="316.25" font-size="8.2" text-anchor="end" fill="#151515">0.04</text>
<line x1="344.4" y1="328.4" x2="347.6" y2="328.4" stroke="#222" stroke-width="1.1"/>
<text x="343.2" y="331.35" font-size="8.2" text-anchor="end" fill="#151515">0.02</text>
<line x1="344.4" y1="343.5" x2="347.6" y2="343.5" stroke="#222" stroke-width="1.1"/>
<text x="343.2" y="346.45" font-size="8.2" text-anchor="end" fill="#151515">0.00</text>
</g>
<g>
<rect x="446.5" y="284.6" width="70" height="9.3" fill="#c2c2c2" stroke="#333" stroke-width="0.9"/>
<text x="481.5" y="292.15" font-size="8.2" text-anchor="middle" fill="#1a1a1a">Breast</text>
<rect x="446.5" y="293.9" width="70" height="55.3" fill="#fff"/>
<path d="M456.5 293.9V349.2M467.5 293.9V349.2M478.5 293.9V349.2M489.5 293.9V349.2M500.5 293.9V349.2M511.5 293.9V349.2M446.5 300.6H516.5M446.5 308.5H516.5M446.5 316.4H516.5M446.5 324.3H516.5M446.5 332.2H516.5M446.5 340.1H516.5M446.5 348H516.5" stroke="#dddde0" stroke-width="0.9" fill="none"/>
<path d="M449.5 344.6L453.8 344.6L456.5 346.2L458.2 340L460 330L461.4 327.6L462.3 327.4L463.1 329.2L464.6 328.4L513.1 298.5" stroke="#de4b58" stroke-width="1.05" fill="none" stroke-linejoin="round" stroke-linecap="butt"/>
<path d="M449.5 334.6L453 341L456.2 346.9L457.8 342L459.7 330.8L461 328L462.3 327L463.4 327.6L464.6 327.8L513.1 296.6" stroke="#4e7dae" stroke-width="1.05" fill="none" stroke-linejoin="round" stroke-linecap="butt"/>
<path d="M449.5 330L453 337.5L456.5 345.4L459 343.5L464.6 336.9L513.1 318.2" stroke="#7c8084" stroke-width="1.2" fill="none" stroke-linejoin="round" stroke-linecap="butt"/>
<rect x="446.5" y="293.9" width="70" height="55.3" fill="none" stroke="#333" stroke-width="1"/>
<line x1="446.05" y1="293.9" x2="516.95" y2="293.9" stroke="#2a2a2a" stroke-width="1.5"/>
<line x1="456.5" y1="349.2" x2="456.5" y2="352.2" stroke="#222" stroke-width="1.1"/>
<text x="456.5" y="359.4" font-size="8.2" text-anchor="middle" fill="#151515">0</text>
<line x1="478.5" y1="349.2" x2="478.5" y2="352.2" stroke="#222" stroke-width="1.1"/>
<text x="478.5" y="359.4" font-size="8.2" text-anchor="middle" fill="#151515">5</text>
<line x1="500.5" y1="349.2" x2="500.5" y2="352.2" stroke="#222" stroke-width="1.1"/>
<text x="500.5" y="359.4" font-size="8.2" text-anchor="middle" fill="#151515">10</text>
<line x1="443.3" y1="308.5" x2="446.5" y2="308.5" stroke="#222" stroke-width="1.1"/>
<text x="442.1" y="311.45" font-size="8.2" text-anchor="end" fill="#151515">0.008</text>
<line x1="443.3" y1="324.3" x2="446.5" y2="324.3" stroke="#222" stroke-width="1.1"/>
<text x="442.1" y="327.25" font-size="8.2" text-anchor="end" fill="#151515">0.004</text>
<line x1="443.3" y1="340.1" x2="446.5" y2="340.1" stroke="#222" stroke-width="1.1"/>
<text x="442.1" y="343.05" font-size="8.2" text-anchor="end" fill="#151515">0.000</text>
</g>
<g>
<rect x="51.5" y="364.6" width="70" height="9.3" fill="#c2c2c2" stroke="#333" stroke-width="0.9"/>
<text x="86.5" y="372.15" font-size="8.2" text-anchor="middle" fill="#1a1a1a">Esophagus</text>
<rect x="51.5" y="373.9" width="70" height="55.3" fill="#fff"/>
<path d="M61.4 373.9V429.2M72.45 373.9V429.2M83.5 373.9V429.2M94.55 373.9V429.2M105.6 373.9V429.2M116.65 373.9V429.2M51.5 376.2H121.5M51.5 381.55H121.5M51.5 386.9H121.5M51.5 392.25H121.5M51.5 397.6H121.5M51.5 402.95H121.5M51.5 408.3H121.5M51.5 413.65H121.5M51.5 419H121.5M51.5 424.35H121.5" stroke="#dddde0" stroke-width="0.9" fill="none"/>
<path d="M54.8 396.5L58.1 410.6L58.3 411.6L61.2 411.6L62 410L63.5 408.7L118.1 408.5" stroke="#de4b58" stroke-width="1.05" fill="none" stroke-linejoin="round" stroke-linecap="butt"/>
<path d="M54.2 376.2L58 410.8L58 414.3L61.2 414.3L61.4 405.4L63 403.5L65 401.5L67 400L69.6 398.8L72.5 398.1L75.8 397.7L118.1 392.8" stroke="#4e7dae" stroke-width="1.05" fill="none" stroke-linejoin="round" stroke-linecap="butt"/>
<path d="M54.5 386.2L58.1 411.2L58.3 412.5L61.3 412.5L61.9 409.2L69.9 403.1L117.3 426.9" stroke="#7c8084" stroke-width="1.2" fill="none" stroke-linejoin="round" stroke-linecap="butt"/>
<rect x="51.5" y="373.9" width="70" height="55.3" fill="none" stroke="#333" stroke-width="1"/>
<line x1="51.05" y1="373.9" x2="121.95" y2="373.9" stroke="#2a2a2a" stroke-width="1.5"/>
<line x1="61.4" y1="429.2" x2="61.4" y2="432.2" stroke="#222" stroke-width="1.1"/>
<text x="61.4" y="439.4" font-size="8.2" text-anchor="middle" fill="#151515">0</text>
<line x1="83.5" y1="429.2" x2="83.5" y2="432.2" stroke="#222" stroke-width="1.1"/>
<text x="83.5" y="439.4" font-size="8.2" text-anchor="middle" fill="#151515">5</text>
<line x1="105.6" y1="429.2" x2="105.6" y2="432.2" stroke="#222" stroke-width="1.1"/>
<text x="105.6" y="439.4" font-size="8.2" text-anchor="middle" fill="#151515">10</text>
<line x1="48.3" y1="376.2" x2="51.5" y2="376.2" stroke="#222" stroke-width="1.1"/>
<text x="47.1" y="379.15" font-size="8.2" text-anchor="end" fill="#151515">0.03</text>
<line x1="48.3" y1="386.9" x2="51.5" y2="386.9" stroke="#222" stroke-width="1.1"/>
<text x="47.1" y="389.85" font-size="8.2" text-anchor="end" fill="#151515">0.02</text>
<line x1="48.3" y1="397.7" x2="51.5" y2="397.7" stroke="#222" stroke-width="1.1"/>
<text x="47.1" y="400.65" font-size="8.2" text-anchor="end" fill="#151515">0.01</text>
<line x1="48.3" y1="408.5" x2="51.5" y2="408.5" stroke="#222" stroke-width="1.1"/>
<text x="47.1" y="411.45" font-size="8.2" text-anchor="end" fill="#151515">0.00</text>
<line x1="48.3" y1="419.2" x2="51.5" y2="419.2" stroke="#222" stroke-width="1.1"/>
<text x="47.1" y="422.15" font-size="8.2" text-anchor="end" fill="#151515">-0.01</text>
</g>
<g>
<rect x="150.4" y="364.6" width="70" height="9.3" fill="#c2c2c2" stroke="#333" stroke-width="0.9"/>
<text x="185.4" y="372.15" font-size="8.2" text-anchor="middle" fill="#1a1a1a">Headandneck</text>
<rect x="150.4" y="373.9" width="70" height="55.3" fill="#fff"/>
<path d="M160.2 373.9V429.2M171.3 373.9V429.2M182.4 373.9V429.2M193.5 373.9V429.2M204.6 373.9V429.2M215.7 373.9V429.2M150.4 377.35H220.4M150.4 386.5H220.4M150.4 395.65H220.4M150.4 404.8H220.4M150.4 413.95H220.4M150.4 423.1H220.4" stroke="#dddde0" stroke-width="0.9" fill="none"/>
<path d="M153 395.4L155 412L156.6 423L157.6 426.2L160.4 424.6L168.1 423.8L170.4 422.3L217 384.6" stroke="#de4b58" stroke-width="1.05" fill="none" stroke-linejoin="round" stroke-linecap="butt"/>
<path d="M152.8 404.6L155 418L157 425.5L158.1 426.9L160.4 423.8L163.5 422L166.5 420.8L168.8 420.3L217 376.6" stroke="#4e7dae" stroke-width="1.05" fill="none" stroke-linejoin="round" stroke-linecap="butt"/>
<path d="M153 420.8L155.5 424L158.1 426.5L160.4 424.3L165 421.5L169.6 420.8L217 414.6" stroke="#7c8084" stroke-width="1.2" fill="none" stroke-linejoin="round" stroke-linecap="butt"/>
<rect x="150.4" y="373.9" width="70" height="55.3" fill="none" stroke="#333" stroke-width="1"/>
<line x1="149.95" y1="373.9" x2="220.85" y2="373.9" stroke="#2a2a2a" stroke-width="1.5"/>
<line x1="160.2" y1="429.2" x2="160.2" y2="432.2" stroke="#222" stroke-width="1.1"/>
<text x="160.2" y="439.4" font-size="8.2" text-anchor="middle" fill="#151515">0</text>
<line x1="182.4" y1="429.2" x2="182.4" y2="432.2" stroke="#222" stroke-width="1.1"/>
<text x="182.4" y="439.4" font-size="8.2" text-anchor="middle" fill="#151515">5</text>
<line x1="204.6" y1="429.2" x2="204.6" y2="432.2" stroke="#222" stroke-width="1.1"/>
<text x="204.6" y="439.4" font-size="8.2" text-anchor="middle" fill="#151515">10</text>
<line x1="147.2" y1="386.5" x2="150.4" y2="386.5" stroke="#222" stroke-width="1.1"/>
<text x="146" y="389.45" font-size="8.2" text-anchor="end" fill="#151515">0.10</text>
<line x1="147.2" y1="404.8" x2="150.4" y2="404.8" stroke="#222" stroke-width="1.1"/>
<text x="146" y="407.75" font-size="8.2" text-anchor="end" fill="#151515">0.05</text>
<line x1="147.2" y1="423.1" x2="150.4" y2="423.1" stroke="#222" stroke-width="1.1"/>
<text x="146" y="426.05" font-size="8.2" text-anchor="end" fill="#151515">0.00</text>
</g>
<g>
<rect x="253.4" y="364.6" width="70.3" height="9.3" fill="#c2c2c2" stroke="#333" stroke-width="0.9"/>
<text x="288.55" y="372.15" font-size="8.2" text-anchor="middle" fill="#1a1a1a">Liver</text>
<rect x="253.4" y="373.9" width="70.3" height="55.3" fill="#fff"/>
<path d="M263.8 373.9V429.2M274.9 373.9V429.2M286 373.9V429.2M297.1 373.9V429.2M308.2 373.9V429.2M319.3 373.9V429.2M253.4 376.2H323.7M253.4 382.4H323.7M253.4 388.6H323.7M253.4 394.8H323.7M253.4 401H323.7M253.4 407.2H323.7M253.4 413.4H323.7M253.4 419.6H323.7M253.4 425.8H323.7" stroke="#dddde0" stroke-width="0.9" fill="none"/>
<path d="M259.5 413.8L263.4 415.1L269.5 415.4L271.1 414.4L320.3 412.3" stroke="#de4b58" stroke-width="1.05" fill="none" stroke-linejoin="round" stroke-linecap="butt"/>
<path d="M256.8 376.5L258.4 393L260 409.2L262.6 413.1L264.9 415.1L271.1 414.2L320.3 410.8" stroke="#4e7dae" stroke-width="1.05" fill="none" stroke-linejoin="round" stroke-linecap="butt"/>
<path d="M256.8 403.5L261.1 412.3L264.9 416.2L268 418.3L271.8 420L320.3 426.9" stroke="#7c8084" stroke-width="1.2" fill="none" stroke-linejoin="round" stroke-linecap="butt"/>
<rect x="253.4" y="373.9" width="70.3" height="55.3" fill="none" stroke="#333" stroke-width="1"/>
<line x1="252.95" y1="373.9" x2="324.15" y2="373.9" stroke="#2a2a2a" stroke-width="1.5"/>
<line x1="263.8" y1="429.2" x2="263.8" y2="432.2" stroke="#222" stroke-width="1.1"/>
<text x="263.8" y="439.4" font-size="8.2" text-anchor="middle" fill="#151515">0</text>
<line x1="286" y1="429.2" x2="286" y2="432.2" stroke="#222" stroke-width="1.1"/>
<text x="286" y="439.4" font-size="8.2" text-anchor="middle" fill="#151515">5</text>
<line x1="308.2" y1="429.2" x2="308.2" y2="432.2" stroke="#222" stroke-width="1.1"/>
<text x="308.2" y="439.4" font-size="8.2" text-anchor="middle" fill="#151515">10</text>
<line x1="250.2" y1="376.2" x2="253.4" y2="376.2" stroke="#222" stroke-width="1.1"/>
<text x="249" y="379.15" font-size="8.2" text-anchor="end" fill="#151515">0.015</text>
<line x1="250.2" y1="388.6" x2="253.4" y2="388.6" stroke="#222" stroke-width="1.1"/>
<text x="249" y="391.55" font-size="8.2" text-anchor="end" fill="#151515">0.010</text>
<line x1="250.2" y1="401.1" x2="253.4" y2="401.1" stroke="#222" stroke-width="1.1"/>
<text x="249" y="404.05" font-size="8.2" text-anchor="end" fill="#151515">0.005</text>
<line x1="250.2" y1="413.6" x2="253.4" y2="413.6" stroke="#222" stroke-width="1.1"/>
<text x="249" y="416.55" font-size="8.2" text-anchor="end" fill="#151515">0.000</text>
<line x1="250.2" y1="426.1" x2="253.4" y2="426.1" stroke="#222" stroke-width="1.1"/>
<text x="249" y="429.05" font-size="8.2" text-anchor="end" fill="#151515">-0.005</text>
</g>
<g>
<rect x="347.6" y="364.6" width="70.3" height="9.3" fill="#c2c2c2" stroke="#333" stroke-width="0.9"/>
<text x="382.75" y="372.15" font-size="8.2" text-anchor="middle" fill="#1a1a1a">Lung</text>
<rect x="347.6" y="373.9" width="70.3" height="55.3" fill="#fff"/>
<path d="M357.9 373.9V429.2M368.9 373.9V429.2M379.9 373.9V429.2M390.9 373.9V429.2M401.9 373.9V429.2M412.9 373.9V429.2M347.6 379.2H417.9M347.6 386.5H417.9M347.6 393.8H417.9M347.6 401.1H417.9M347.6 408.4H417.9M347.6 415.7H417.9M347.6 423H417.9" stroke="#dddde0" stroke-width="0.9" fill="none"/>
<path d="M350.9 409.5L352.4 417L353.8 423.1L356.8 424.6L366.1 424.3L368 423.2L414.5 388.2" stroke="#de4b58" stroke-width="1.05" fill="none" stroke-linejoin="round" stroke-linecap="butt"/>
<path d="M350.7 408.2L352.2 416L353.8 423.1L356.8 426.9L359 425.4L361.5 422.3L366.1 420.8L414.5 376.6" stroke="#4e7dae" stroke-width="1.05" fill="none" stroke-linejoin="round" stroke-linecap="butt"/>
<path d="M350.7 420L353.8 423.8L356.8 425.4L366.1 423.1L414.5 404.3" stroke="#7c8084" stroke-width="1.2" fill="none" stroke-linejoin="round" stroke-linecap="butt"/>
<rect x="347.6" y="373.9" width="70.3" height="55.3" fill="none" stroke="#333" stroke-width="1"/>
<line x1="347.15" y1="373.9" x2="418.35" y2="373.9" stroke="#2a2a2a" stroke-width="1.5"/>
<line x1="357.9" y1="429.2" x2="357.9" y2="432.2" stroke="#222" stroke-width="1.1"/>
<text x="357.9" y="439.4" font-size="8.2" text-anchor="middle" fill="#151515">0</text>
<line x1="379.9" y1="429.2" x2="379.9" y2="432.2" stroke="#222" stroke-width="1.1"/>
<text x="379.9" y="439.4" font-size="8.2" text-anchor="middle" fill="#151515">5</text>
<line x1="401.9" y1="429.2" x2="401.9" y2="432.2" stroke="#222" stroke-width="1.1"/>
<text x="401.9" y="439.4" font-size="8.2" text-anchor="middle" fill="#151515">10</text>
<line x1="344.4" y1="379.2" x2="347.6" y2="379.2" stroke="#222" stroke-width="1.1"/>
<text x="343.2" y="382.15" font-size="8.2" text-anchor="end" fill="#151515">0.06</text>
<line x1="344.4" y1="393.8" x2="347.6" y2="393.8" stroke="#222" stroke-width="1.1"/>
<text x="343.2" y="396.75" font-size="8.2" text-anchor="end" fill="#151515">0.04</text>
<line x1="344.4" y1="408.5" x2="347.6" y2="408.5" stroke="#222" stroke-width="1.1"/>
<text x="343.2" y="411.45" font-size="8.2" text-anchor="end" fill="#151515">0.02</text>
<line x1="344.4" y1="423.1" x2="347.6" y2="423.1" stroke="#222" stroke-width="1.1"/>
<text x="343.2" y="426.05" font-size="8.2" text-anchor="end" fill="#151515">0.00</text>
</g>
<g>
<rect x="446.5" y="364.6" width="70" height="9.3" fill="#c2c2c2" stroke="#333" stroke-width="0.9"/>
<text x="481.5" y="372.15" font-size="8.2" text-anchor="middle" fill="#1a1a1a">Ovary</text>
<rect x="446.5" y="373.9" width="70" height="55.3" fill="#fff"/>
<path d="M456.5 373.9V429.2M467.5 373.9V429.2M478.5 373.9V429.2M489.5 373.9V429.2M500.5 373.9V429.2M511.5 373.9V429.2M446.5 377.35H516.5M446.5 382.3H516.5M446.5 387.25H516.5M446.5 392.2H516.5M446.5 397.15H516.5M446.5 402.1H516.5M446.5 407.05H516.5M446.5 412H516.5M446.5 416.95H516.5M446.5 421.9H516.5M446.5 426.85H516.5" stroke="#dddde0" stroke-width="0.9" fill="none"/>
<path d="M449.5 417.7L452.5 423L455.4 426.2L458 421L460.8 414.6L462.8 413.8L464.6 414.6L513.1 380.8" stroke="#de4b58" stroke-width="1.05" fill="none" stroke-linejoin="round" stroke-linecap="butt"/>
<path d="M449.5 408.5L453 418.5L456.5 426.9L458.6 422L460.8 416.9L462.6 416L464 416.6L465.4 417.7L513.1 376.6" stroke="#4e7dae" stroke-width="1.05" fill="none" stroke-linejoin="round" stroke-linecap="butt"/>
<path d="M449.5 410.8L453 419L456.9 426.9L460.8 426.2L464.6 422.3L513.1 396.6" stroke="#7c8084" stroke-width="1.2" fill="none" stroke-linejoin="round" stroke-linecap="butt"/>
<rect x="446.5" y="373.9" width="70" height="55.3" fill="none" stroke="#333" stroke-width="1"/>
<line x1="446.05" y1="373.9" x2="516.95" y2="373.9" stroke="#2a2a2a" stroke-width="1.5"/>
<line x1="456.5" y1="429.2" x2="456.5" y2="432.2" stroke="#222" stroke-width="1.1"/>
<text x="456.5" y="439.4" font-size="8.2" text-anchor="middle" fill="#151515">0</text>
<line x1="478.5" y1="429.2" x2="478.5" y2="432.2" stroke="#222" stroke-width="1.1"/>
<text x="478.5" y="439.4" font-size="8.2" text-anchor="middle" fill="#151515">5</text>
<line x1="500.5" y1="429.2" x2="500.5" y2="432.2" stroke="#222" stroke-width="1.1"/>
<text x="500.5" y="439.4" font-size="8.2" text-anchor="middle" fill="#151515">10</text>
<line x1="443.3" y1="382.3" x2="446.5" y2="382.3" stroke="#222" stroke-width="1.1"/>
<text x="442.1" y="385.25" font-size="8.2" text-anchor="end" fill="#151515">0.020</text>
<line x1="443.3" y1="392.2" x2="446.5" y2="392.2" stroke="#222" stroke-width="1.1"/>
<text x="442.1" y="395.15" font-size="8.2" text-anchor="end" fill="#151515">0.015</text>
<line x1="443.3" y1="402.1" x2="446.5" y2="402.1" stroke="#222" stroke-width="1.1"/>
<text x="442.1" y="405.05" font-size="8.2" text-anchor="end" fill="#151515">0.010</text>
<line x1="443.3" y1="412" x2="446.5" y2="412" stroke="#222" stroke-width="1.1"/>
<text x="442.1" y="414.95" font-size="8.2" text-anchor="end" fill="#151515">0.005</text>
<line x1="443.3" y1="421.9" x2="446.5" y2="421.9" stroke="#222" stroke-width="1.1"/>
<text x="442.1" y="424.85" font-size="8.2" text-anchor="end" fill="#151515">0.000</text>
</g>
<g>
<rect x="51.5" y="444.6" width="70" height="9.3" fill="#c2c2c2" stroke="#333" stroke-width="0.9"/>
<text x="86.5" y="452.15" font-size="8.2" text-anchor="middle" fill="#1a1a1a">Pancreas</text>
<rect x="51.5" y="453.9" width="70" height="55.3" fill="#fff"/>
<path d="M61.4 453.9V509.2M72.45 453.9V509.2M83.5 453.9V509.2M94.55 453.9V509.2M105.6 453.9V509.2M116.65 453.9V509.2M51.5 455.8H121.5M51.5 463.95H121.5M51.5 472.1H121.5M51.5 480.25H121.5M51.5 488.4H121.5M51.5 496.55H121.5M51.5 504.7H121.5" stroke="#dddde0" stroke-width="0.9" fill="none"/>
<path d="M54.2 456.6L57.6 504.6L60.4 506.5L68.1 506.5L118.1 495.1" stroke="#de4b58" stroke-width="1.05" fill="none" stroke-linejoin="round" stroke-linecap="butt"/>
<path d="M54.6 462L58.1 505.4L60.1 506.9L62 505.8L64.2 503.8L118.1 490.5" stroke="#4e7dae" stroke-width="1.05" fill="none" stroke-linejoin="round" stroke-linecap="butt"/>
<path d="M54.5 501.5L58.1 505.4L60.4 506.5L65 505.4L118.1 493.8" stroke="#7c8084" stroke-width="1.2" fill="none" stroke-linejoin="round" stroke-linecap="butt"/>
<rect x="51.5" y="453.9" width="70" height="55.3" fill="none" stroke="#333" stroke-width="1"/>
<line x1="51.05" y1="453.9" x2="121.95" y2="453.9" stroke="#2a2a2a" stroke-width="1.5"/>
<line x1="61.4" y1="509.2" x2="61.4" y2="512.2" stroke="#222" stroke-width="1.1"/>
<text x="61.4" y="519.4" font-size="8.2" text-anchor="middle" fill="#151515">0</text>
<line x1="83.5" y1="509.2" x2="83.5" y2="512.2" stroke="#222" stroke-width="1.1"/>
<text x="83.5" y="519.4" font-size="8.2" text-anchor="middle" fill="#151515">5</text>
<line x1="105.6" y1="509.2" x2="105.6" y2="512.2" stroke="#222" stroke-width="1.1"/>
<text x="105.6" y="519.4" font-size="8.2" text-anchor="middle" fill="#151515">10</text>
<line x1="48.3" y1="455.8" x2="51.5" y2="455.8" stroke="#222" stroke-width="1.1"/>
<text x="47.1" y="458.75" font-size="8.2" text-anchor="end" fill="#151515">0.03</text>
<line x1="48.3" y1="472.1" x2="51.5" y2="472.1" stroke="#222" stroke-width="1.1"/>
<text x="47.1" y="475.05" font-size="8.2" text-anchor="end" fill="#151515">0.02</text>
<line x1="48.3" y1="488.4" x2="51.5" y2="488.4" stroke="#222" stroke-width="1.1"/>
<text x="47.1" y="491.35" font-size="8.2" text-anchor="end" fill="#151515">0.01</text>
<line x1="48.3" y1="504.6" x2="51.5" y2="504.6" stroke="#222" stroke-width="1.1"/>
<text x="47.1" y="507.55" font-size="8.2" text-anchor="end" fill="#151515">0.00</text>
</g>
<g>
<rect x="150.4" y="444.6" width="70" height="9.3" fill="#c2c2c2" stroke="#333" stroke-width="0.9"/>
<text x="185.4" y="452.15" font-size="8.2" text-anchor="middle" fill="#1a1a1a">Prostate</text>
<rect x="150.4" y="453.9" width="70" height="55.3" fill="#fff"/>
<path d="M160.2 453.9V509.2M171.3 453.9V509.2M182.4 453.9V509.2M193.5 453.9V509.2M204.6 453.9V509.2M215.7 453.9V509.2M150.4 455.1H220.4M150.4 464.85H220.4M150.4 474.6H220.4M150.4 484.35H220.4M150.4 494.1H220.4M150.4 503.85H220.4" stroke="#dddde0" stroke-width="0.9" fill="none"/>
<path d="M153 480.8L155 480.8L158.1 496.9L165 497.2L168.1 497.7L217 456.6" stroke="#de4b58" stroke-width="1.05" fill="none" stroke-linejoin="round" stroke-linecap="butt"/>
<path d="M153 460L155.8 478.5L158 494L159.6 502.3L161.2 500.8L163.5 502.3L165.8 496.6L168.1 498.2L217 469.2" stroke="#4e7dae" stroke-width="1.05" fill="none" stroke-linejoin="round" stroke-linecap="butt"/>
<path d="M153 463.1L156 481L158.8 498.5L161 502.4L163.5 505.4L166 506.8L168.8 507.4L217 491.5" stroke="#7c8084" stroke-width="1.2" fill="none" stroke-linejoin="round" stroke-linecap="butt"/>
<rect x="150.4" y="453.9" width="70" height="55.3" fill="none" stroke="#333" stroke-width="1"/>
<line x1="149.95" y1="453.9" x2="220.85" y2="453.9" stroke="#2a2a2a" stroke-width="1.5"/>
<line x1="160.2" y1="509.2" x2="160.2" y2="512.2" stroke="#222" stroke-width="1.1"/>
<text x="160.2" y="519.4" font-size="8.2" text-anchor="middle" fill="#151515">0</text>
<line x1="182.4" y1="509.2" x2="182.4" y2="512.2" stroke="#222" stroke-width="1.1"/>
<text x="182.4" y="519.4" font-size="8.2" text-anchor="middle" fill="#151515">5</text>
<line x1="204.6" y1="509.2" x2="204.6" y2="512.2" stroke="#222" stroke-width="1.1"/>
<text x="204.6" y="519.4" font-size="8.2" text-anchor="middle" fill="#151515">10</text>
<line x1="147.2" y1="455.1" x2="150.4" y2="455.1" stroke="#222" stroke-width="1.1"/>
<text x="146" y="458.05" font-size="8.2" text-anchor="end" fill="#151515">0.010</text>
<line x1="147.2" y1="474.6" x2="150.4" y2="474.6" stroke="#222" stroke-width="1.1"/>
<text x="146" y="477.55" font-size="8.2" text-anchor="end" fill="#151515">0.005</text>
<line x1="147.2" y1="494.2" x2="150.4" y2="494.2" stroke="#222" stroke-width="1.1"/>
<text x="146" y="497.15" font-size="8.2" text-anchor="end" fill="#151515">0.000</text>
</g>
<g>
<rect x="253.4" y="444.6" width="70.3" height="9.3" fill="#c2c2c2" stroke="#333" stroke-width="0.9"/>
<text x="288.55" y="452.15" font-size="8.2" text-anchor="middle" fill="#1a1a1a">Skin</text>
<rect x="253.4" y="453.9" width="70.3" height="55.3" fill="#fff"/>
<path d="M263.8 453.9V509.2M274.9 453.9V509.2M286 453.9V509.2M297.1 453.9V509.2M308.2 453.9V509.2M319.3 453.9V509.2M253.4 456.6H323.7M253.4 464.35H323.7M253.4 472.1H323.7M253.4 479.85H323.7M253.4 487.6H323.7M253.4 495.35H323.7M253.4 503.1H323.7" stroke="#dddde0" stroke-width="0.9" fill="none"/>
<path d="M256.8 472.3L258.2 489L259.5 500.8L261.3 504.5L263.1 506.2L265.3 504.6L267.5 501.6L269.5 500L320.3 502" stroke="#de4b58" stroke-width="1.05" fill="none" stroke-linejoin="round" stroke-linecap="butt"/>
<path d="M256.8 456.9L258.2 480L259.5 500L261.3 504.5L263.1 506.5L265.3 505L267.5 502L269.5 500L320.3 492.8" stroke="#4e7dae" stroke-width="1.05" fill="none" stroke-linejoin="round" stroke-linecap="butt"/>
<path d="M256.8 498.5L260.3 503.1L263.1 506.9L265.5 505L269.5 500L320.3 507.4" stroke="#7c8084" stroke-width="1.2" fill="none" stroke-linejoin="round" stroke-linecap="butt"/>
<rect x="253.4" y="453.9" width="70.3" height="55.3" fill="none" stroke="#333" stroke-width="1"/>
<line x1="252.95" y1="453.9" x2="324.15" y2="453.9" stroke="#2a2a2a" stroke-width="1.5"/>
<line x1="263.8" y1="509.2" x2="263.8" y2="512.2" stroke="#222" stroke-width="1.1"/>
<text x="263.8" y="519.4" font-size="8.2" text-anchor="middle" fill="#151515">0</text>
<line x1="286" y1="509.2" x2="286" y2="512.2" stroke="#222" stroke-width="1.1"/>
<text x="286" y="519.4" font-size="8.2" text-anchor="middle" fill="#151515">5</text>
<line x1="308.2" y1="509.2" x2="308.2" y2="512.2" stroke="#222" stroke-width="1.1"/>
<text x="308.2" y="519.4" font-size="8.2" text-anchor="middle" fill="#151515">10</text>
<line x1="250.2" y1="456.6" x2="253.4" y2="456.6" stroke="#222" stroke-width="1.1"/>
<text x="249" y="459.55" font-size="8.2" text-anchor="end" fill="#151515">0.12</text>
<line x1="250.2" y1="472.1" x2="253.4" y2="472.1" stroke="#222" stroke-width="1.1"/>
<text x="249" y="475.05" font-size="8.2" text-anchor="end" fill="#151515">0.08</text>
<line x1="250.2" y1="487.6" x2="253.4" y2="487.6" stroke="#222" stroke-width="1.1"/>
<text x="249" y="490.55" font-size="8.2" text-anchor="end" fill="#151515">0.04</text>
<line x1="250.2" y1="503.1" x2="253.4" y2="503.1" stroke="#222" stroke-width="1.1"/>
<text x="249" y="506.05" font-size="8.2" text-anchor="end" fill="#151515">0.00</text>
</g>
<g>
<rect x="347.6" y="444.6" width="70.3" height="9.3" fill="#c2c2c2" stroke="#333" stroke-width="0.9"/>
<text x="382.75" y="452.15" font-size="8.2" text-anchor="middle" fill="#1a1a1a">Stomach</text>
<rect x="347.6" y="453.9" width="70.3" height="55.3" fill="#fff"/>
<path d="M357.9 453.9V509.2M368.9 453.9V509.2M379.9 453.9V509.2M390.9 453.9V509.2M401.9 453.9V509.2M412.9 453.9V509.2M347.6 459.45H417.9M347.6 465.1H417.9M347.6 470.75H417.9M347.6 476.4H417.9M347.6 482.05H417.9M347.6 487.7H417.9M347.6 493.35H417.9M347.6 499H417.9M347.6 504.65H417.9" stroke="#dddde0" stroke-width="0.9" fill="none"/>
<path d="M350.7 499.2L355.3 500L357.2 504.6L358.4 496.2L361 493L363.8 488.9L366.8 488.9L414.5 493.5" stroke="#de4b58" stroke-width="1.05" fill="none" stroke-linejoin="round" stroke-linecap="butt"/>
<path d="M350.7 470.3L355 506.2L357.2 506.9L358.4 495.4L361 492.2L363.8 489.2L366.1 488.5L414.5 456.6" stroke="#4e7dae" stroke-width="1.05" fill="none" stroke-linejoin="round" stroke-linecap="butt"/>
<path d="M350.7 487.7L355.3 504.6L357.6 501.5L359.2 499.2L363 496.5L367.6 494.6L374 492.2L381.5 490L414.5 480" stroke="#7c8084" stroke-width="1.2" fill="none" stroke-linejoin="round" stroke-linecap="butt"/>
<rect x="347.6" y="453.9" width="70.3" height="55.3" fill="none" stroke="#333" stroke-width="1"/>
<line x1="347.15" y1="453.9" x2="418.35" y2="453.9" stroke="#2a2a2a" stroke-width="1.5"/>
<line x1="357.9" y1="509.2" x2="357.9" y2="512.2" stroke="#222" stroke-width="1.1"/>
<text x="357.9" y="519.4" font-size="8.2" text-anchor="middle" fill="#151515">0</text>
<line x1="379.9" y1="509.2" x2="379.9" y2="512.2" stroke="#222" stroke-width="1.1"/>
<text x="379.9" y="519.4" font-size="8.2" text-anchor="middle" fill="#151515">5</text>
<line x1="401.9" y1="509.2" x2="401.9" y2="512.2" stroke="#222" stroke-width="1.1"/>
<text x="401.9" y="519.4" font-size="8.2" text-anchor="middle" fill="#151515">10</text>
<line x1="344.4" y1="465.1" x2="347.6" y2="465.1" stroke="#222" stroke-width="1.1"/>
<text x="343.2" y="468.05" font-size="8.2" text-anchor="end" fill="#151515">0.03</text>
<line x1="344.4" y1="476.4" x2="347.6" y2="476.4" stroke="#222" stroke-width="1.1"/>
<text x="343.2" y="479.35" font-size="8.2" text-anchor="end" fill="#151515">0.02</text>
<line x1="344.4" y1="487.7" x2="347.6" y2="487.7" stroke="#222" stroke-width="1.1"/>
<text x="343.2" y="490.65" font-size="8.2" text-anchor="end" fill="#151515">0.01</text>
<line x1="344.4" y1="498.9" x2="347.6" y2="498.9" stroke="#222" stroke-width="1.1"/>
<text x="343.2" y="501.85" font-size="8.2" text-anchor="end" fill="#151515">0.00</text>
</g>
<g>
<rect x="446.5" y="444.6" width="70" height="9.3" fill="#c2c2c2" stroke="#333" stroke-width="0.9"/>
<text x="481.5" y="452.15" font-size="8.2" text-anchor="middle" fill="#1a1a1a">Uterus</text>
<rect x="446.5" y="453.9" width="70" height="55.3" fill="#fff"/>
<path d="M456.5 453.9V509.2M467.5 453.9V509.2M478.5 453.9V509.2M489.5 453.9V509.2M500.5 453.9V509.2M511.5 453.9V509.2M446.5 460.8H516.5M446.5 468.2H516.5M446.5 475.6H516.5M446.5 483H516.5M446.5 490.4H516.5M446.5 497.8H516.5M446.5 505.2H516.5" stroke="#dddde0" stroke-width="0.9" fill="none"/>
<path d="M449.5 490L453.1 498.5L455.4 499.2L459.2 499.2L463.1 494.6L513.8 497.7" stroke="#de4b58" stroke-width="1.05" fill="none" stroke-linejoin="round" stroke-linecap="butt"/>
<path d="M449.2 456.6L451.2 478L453.1 496.9L455.1 502.3L459.2 502.3L461.5 495.4L464.6 489.5L513.8 468.5" stroke="#4e7dae" stroke-width="1.05" fill="none" stroke-linejoin="round" stroke-linecap="butt"/>
<path d="M449.5 486.9L453.1 498.5L455.4 500.8L459.2 500.8L463.1 496.9L470.8 498.2L513.8 507.4" stroke="#7c8084" stroke-width="1.2" fill="none" stroke-linejoin="round" stroke-linecap="butt"/>
<rect x="446.5" y="453.9" width="70" height="55.3" fill="none" stroke="#333" stroke-width="1"/>
<line x1="446.05" y1="453.9" x2="516.95" y2="453.9" stroke="#2a2a2a" stroke-width="1.5"/>
<line x1="456.5" y1="509.2" x2="456.5" y2="512.2" stroke="#222" stroke-width="1.1"/>
<text x="456.5" y="519.4" font-size="8.2" text-anchor="middle" fill="#151515">0</text>
<line x1="478.5" y1="509.2" x2="478.5" y2="512.2" stroke="#222" stroke-width="1.1"/>
<text x="478.5" y="519.4" font-size="8.2" text-anchor="middle" fill="#151515">5</text>
<line x1="500.5" y1="509.2" x2="500.5" y2="512.2" stroke="#222" stroke-width="1.1"/>
<text x="500.5" y="519.4" font-size="8.2" text-anchor="middle" fill="#151515">10</text>
<line x1="443.3" y1="468.2" x2="446.5" y2="468.2" stroke="#222" stroke-width="1.1"/>
<text x="442.1" y="471.15" font-size="8.2" text-anchor="end" fill="#151515">0.050</text>
<line x1="443.3" y1="483" x2="446.5" y2="483" stroke="#222" stroke-width="1.1"/>
<text x="442.1" y="485.95" font-size="8.2" text-anchor="end" fill="#151515">0.025</text>
<line x1="443.3" y1="497.7" x2="446.5" y2="497.7" stroke="#222" stroke-width="1.1"/>
<text x="442.1" y="500.65" font-size="8.2" text-anchor="end" fill="#151515">0.000</text>
</g>
<text x="287.4" y="537.1" font-size="11.35" text-anchor="middle" fill="#1a1a1a">Normalized aG4 signal values</text>
<text transform="translate(10.1 402.3) rotate(-90)" font-size="11.4" text-anchor="middle" fill="#1a1a1a">Accumulated local effects</text>
</svg>
</body>
</html>
